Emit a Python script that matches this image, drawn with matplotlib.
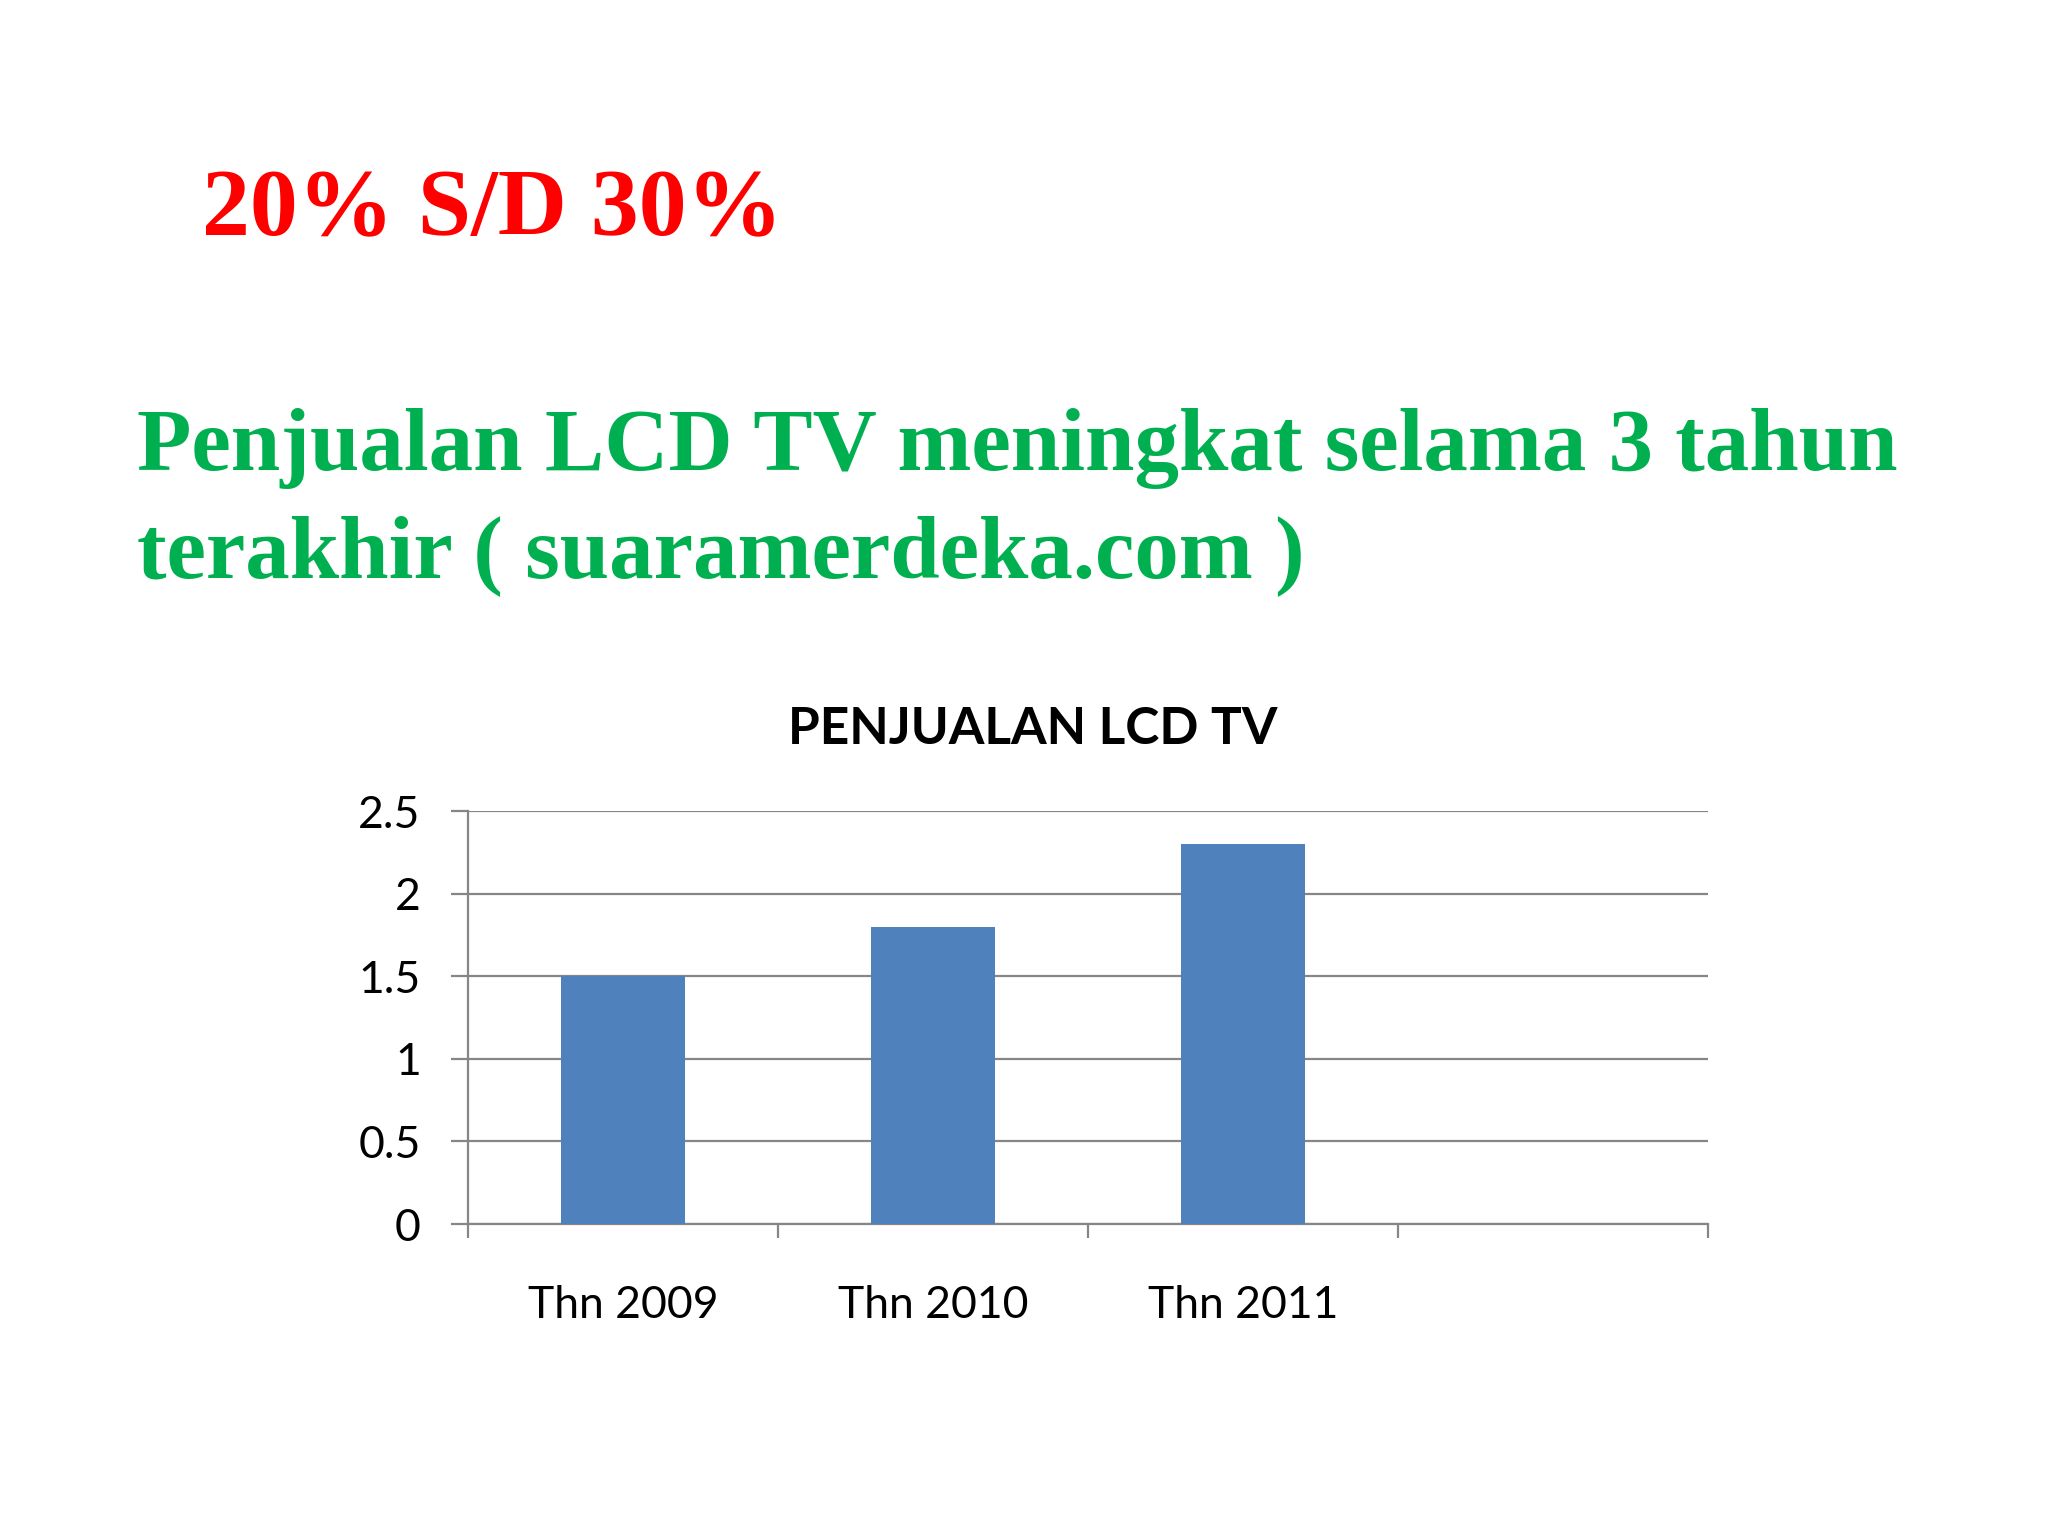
import matplotlib
matplotlib.use("Agg")
import matplotlib.pyplot as plt
from matplotlib.ticker import FixedLocator

# data
CATEGORIES = ["Thn 2009", "Thn 2010", "Thn 2011", ""]
SALES = [1.5, 1.8, 2.3]
Y_TICKS = [0, 0.5, 1, 1.5, 2, 2.5]
Y_LABELS = ["0", "0.5", "1", "1.5", "2", "2.5"]

BAR_COLOR = "#4F81BD"
GRID_COLOR = "#868686"
GREEN = "#00B050"
RED = "#FF0000"

fig = plt.figure(figsize=(20.48, 15.36), dpi=100)
fig.patch.set_facecolor("white")

# slide text
fig.text(0.0987, 1 - 235 / 1536, "20% S/D 30%", color=RED,
         family="Liberation Serif", fontweight="bold", fontsize=69,
         ha="left", va="baseline")
fig.text(0.0669, 1 - 470 / 1536, "Penjualan LCD TV meningkat selama 3 tahun",
         color=GREEN, family="Liberation Serif", fontweight="bold",
         fontsize=64, ha="left", va="baseline")
fig.text(0.0669, 1 - 577 / 1536, "terakhir ( suaramerdeka.com )",
         color=GREEN, family="Liberation Serif", fontweight="bold",
         fontsize=64, ha="left", va="baseline")

# chart
ax = fig.add_axes([0.2285, 0.2031, 0.6055, 0.2689])
x = list(range(len(SALES)))
ax.bar(x, SALES, width=0.4, color=BAR_COLOR, zorder=3)
ax.set_xlim(-0.5, len(CATEGORIES) - 0.5)
ax.set_ylim(0, 2.5)

ax.set_yticks(Y_TICKS)
ax.set_yticklabels(Y_LABELS, family="Lato", fontsize=32)
ax.yaxis.grid(True, color=GRID_COLOR, linewidth=1.6, zorder=0)
ax.tick_params(axis="y", length=12, width=1.6, color=GRID_COLOR, pad=22)

ax.set_xticks(range(len(CATEGORIES)))
ax.set_xticklabels(CATEGORIES, family="Lato", fontsize=32)
ax.tick_params(axis="x", which="major", length=0, pad=44)
ax.xaxis.set_minor_locator(FixedLocator([i - 0.5 for i in range(len(CATEGORIES) + 1)]))
ax.tick_params(axis="x", which="minor", length=10, width=1.6, color=GRID_COLOR)

for side in ["top", "right"]:
    ax.spines[side].set_visible(False)
for side in ["left", "bottom"]:
    ax.spines[side].set_color(GRID_COLOR)
    ax.spines[side].set_linewidth(1.6)

fig.text(0.504, 1 - 744 / 1536, "PENJUALAN LCD TV", family="Lato",
         fontweight="bold", fontsize=37, ha="center", va="baseline")

fig.savefig("out.png", dpi=100, facecolor="white")
